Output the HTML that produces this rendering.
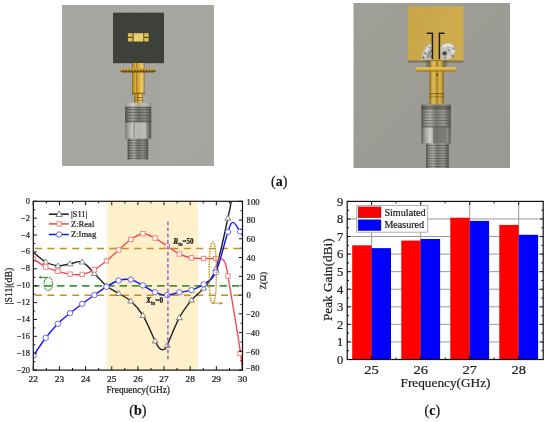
<!DOCTYPE html>
<html><head><meta charset="utf-8"><title>Antenna figure</title>
<style>html,body{margin:0;padding:0;background:#fff;} body{width:550px;height:422px;overflow:hidden;} svg{display:block;} text{stroke:#222;stroke-width:0.22px;}</style>
</head><body>
<svg width="550" height="422" viewBox="0 0 550 422">
<defs>
<linearGradient id="bg1" x1="0" y1="0" x2="1" y2="1"><stop offset="0" stop-color="#a8a8a2"/><stop offset="1" stop-color="#a5a49f"/></linearGradient>
<linearGradient id="bg2" x1="0" y1="0" x2="1" y2="1"><stop offset="0" stop-color="#9f9e97"/><stop offset="1" stop-color="#9a9993"/></linearGradient>
<linearGradient id="board" x1="0" y1="0" x2="1" y2="0.3"><stop offset="0" stop-color="#c8a64a"/><stop offset="1" stop-color="#cfac4c"/></linearGradient>
<filter id="soft" x="-5%" y="-5%" width="110%" height="110%"><feGaussianBlur stdDeviation="0.45"/></filter>
<linearGradient id="sqshade" x1="0" y1="0" x2="0" y2="1"><stop offset="0" stop-color="#000" stop-opacity="0"/><stop offset="1" stop-color="#000" stop-opacity="0.08"/></linearGradient>
<linearGradient id="boardshade" x1="0" y1="0" x2="1" y2="1"><stop offset="0" stop-color="#fff" stop-opacity="0.05"/><stop offset="1" stop-color="#000" stop-opacity="0.06"/></linearGradient>
<linearGradient id="goldv" x1="0" y1="0" x2="1" y2="0"><stop offset="0" stop-color="#7a5a14"/><stop offset="0.1" stop-color="#bc9028"/><stop offset="0.3" stop-color="#e0b43a"/><stop offset="0.38" stop-color="#8e6a1c"/><stop offset="0.45" stop-color="#d6a834"/><stop offset="0.65" stop-color="#dcb040"/><stop offset="0.72" stop-color="#f0d070"/><stop offset="0.9" stop-color="#e0bc58"/><stop offset="1" stop-color="#80601a"/></linearGradient>
<linearGradient id="goldv2" x1="0" y1="0" x2="1" y2="0"><stop offset="0" stop-color="#7a5a18"/><stop offset="0.1" stop-color="#c09630"/><stop offset="0.3" stop-color="#e0c060"/><stop offset="0.45" stop-color="#c49a34"/><stop offset="0.55" stop-color="#a88428"/><stop offset="0.7" stop-color="#d6b44e"/><stop offset="0.85" stop-color="#c8a040"/><stop offset="1" stop-color="#80601a"/></linearGradient>
<linearGradient id="goldh" x1="0" y1="0" x2="0" y2="1"><stop offset="0" stop-color="#caa03a"/><stop offset="0.45" stop-color="#9a7222"/><stop offset="1" stop-color="#6a4c14"/></linearGradient>
<linearGradient id="goldh2" x1="0" y1="0" x2="0" y2="1"><stop offset="0" stop-color="#f2d068"/><stop offset="0.5" stop-color="#dcae3a"/><stop offset="1" stop-color="#9a7016"/></linearGradient>
<linearGradient id="steel" x1="0" y1="0" x2="1" y2="0"><stop offset="0" stop-color="#4e4e4a"/><stop offset="0.12" stop-color="#8e8d88"/><stop offset="0.3" stop-color="#cac9c4"/><stop offset="0.5" stop-color="#7e7d79"/><stop offset="0.75" stop-color="#a6a5a0"/><stop offset="1" stop-color="#555450"/></linearGradient>
<linearGradient id="steel2" x1="0" y1="0" x2="1" y2="0"><stop offset="0" stop-color="#5a5955"/><stop offset="0.12" stop-color="#9e9d98"/><stop offset="0.3" stop-color="#d0cfca"/><stop offset="0.5" stop-color="#8a8984"/><stop offset="0.75" stop-color="#b4b3ae"/><stop offset="1" stop-color="#5e5d59"/></linearGradient>
</defs>
<rect width="550" height="422" fill="#fff"/>
<g id="photo1">
<rect x="62" y="5" width="152" height="161" fill="url(#bg1)"/>
<g filter="url(#soft)">
<rect x="151" y="70" width="10" height="90" fill="#8a8983" opacity="0.10"/>
<rect x="113" y="12.7" width="51" height="50.5" fill="#3d3f3a"/>
<rect x="127.6" y="33" width="21.1" height="8.7" fill="#403b20"/>
<rect x="127.9" y="33.2" width="4.6" height="8.3" fill="#dcc455"/>
<rect x="133.5" y="33.2" width="9.9" height="8.3" fill="#e6d06e"/>
<rect x="144.2" y="33.2" width="4.4" height="8.3" fill="#dcc455"/>
<rect x="127.9" y="36.8" width="4.6" height="1.1" fill="#4a3c18"/>
<rect x="144.2" y="36.8" width="4.4" height="1.1" fill="#4a3c18"/>
<rect x="132.2" y="63" width="12.2" height="31.5" fill="url(#goldv)"/>
<rect x="134.4" y="94" width="8.3" height="9" fill="url(#goldv)"/>
<rect x="132" y="92.6" width="12.6" height="1.6" fill="#6a4808" opacity="0.6"/>
<rect x="134.2" y="97" width="8.7" height="1.1" fill="#6a4808" opacity="0.6"/>
<rect x="134.2" y="100" width="8.7" height="1" fill="#6a4808" opacity="0.5"/>
<rect x="120.2" y="68.4" width="35.4" height="4" rx="1.8" fill="url(#goldh)"/>
<circle cx="121.8" cy="69.6" r="0.9" fill="#e0b848" opacity="0.8"/>
<circle cx="123.2" cy="71.2" r="0.8" fill="#3e2a08" opacity="0.6"/>
<circle cx="124.7" cy="69.6" r="0.9" fill="#e0b848" opacity="0.8"/>
<circle cx="126.1" cy="71.2" r="0.8" fill="#3e2a08" opacity="0.6"/>
<circle cx="127.6" cy="69.6" r="0.9" fill="#e0b848" opacity="0.8"/>
<circle cx="129" cy="71.2" r="0.8" fill="#3e2a08" opacity="0.6"/>
<circle cx="130.5" cy="69.6" r="0.9" fill="#e0b848" opacity="0.8"/>
<circle cx="131.9" cy="71.2" r="0.8" fill="#3e2a08" opacity="0.6"/>
<circle cx="133.4" cy="69.6" r="0.9" fill="#e0b848" opacity="0.8"/>
<circle cx="134.8" cy="71.2" r="0.8" fill="#3e2a08" opacity="0.6"/>
<circle cx="136.3" cy="69.6" r="0.9" fill="#e0b848" opacity="0.8"/>
<circle cx="137.7" cy="71.2" r="0.8" fill="#3e2a08" opacity="0.6"/>
<circle cx="139.2" cy="69.6" r="0.9" fill="#e0b848" opacity="0.8"/>
<circle cx="140.6" cy="71.2" r="0.8" fill="#3e2a08" opacity="0.6"/>
<circle cx="142.1" cy="69.6" r="0.9" fill="#e0b848" opacity="0.8"/>
<circle cx="143.5" cy="71.2" r="0.8" fill="#3e2a08" opacity="0.6"/>
<circle cx="145" cy="69.6" r="0.9" fill="#e0b848" opacity="0.8"/>
<circle cx="146.4" cy="71.2" r="0.8" fill="#3e2a08" opacity="0.6"/>
<circle cx="147.9" cy="69.6" r="0.9" fill="#e0b848" opacity="0.8"/>
<circle cx="149.3" cy="71.2" r="0.8" fill="#3e2a08" opacity="0.6"/>
<circle cx="150.8" cy="69.6" r="0.9" fill="#e0b848" opacity="0.8"/>
<circle cx="152.2" cy="71.2" r="0.8" fill="#3e2a08" opacity="0.6"/>
<circle cx="153.7" cy="69.6" r="0.9" fill="#e0b848" opacity="0.8"/>
<circle cx="155.1" cy="71.2" r="0.8" fill="#3e2a08" opacity="0.6"/>
<rect x="125.2" y="102.8" width="26" height="35.9" fill="url(#steel)"/>
<rect x="125.2" y="109.1" width="26" height="1" fill="#4f4f4a" opacity="0.55"/>
<rect x="125.2" y="112" width="26" height="1" fill="#4f4f4a" opacity="0.55"/>
<rect x="125.2" y="114.9" width="26" height="1" fill="#4f4f4a" opacity="0.55"/>
<rect x="125.2" y="117.8" width="26" height="1" fill="#4f4f4a" opacity="0.55"/>
<rect x="125.2" y="120.7" width="26" height="1" fill="#4f4f4a" opacity="0.55"/>
<rect x="125.2" y="102.8" width="26" height="4.2" fill="#d2d1cc" opacity="0.55"/>
<rect x="125.2" y="106.6" width="26" height="1.2" fill="#3f3f3b" opacity="0.6"/>
<rect x="125.2" y="107.8" width="26" height="13.6" fill="#4f4e4a" opacity="0.3"/>
<rect x="125.2" y="121.4" width="26" height="1" fill="#3f3f3b" opacity="0.6"/>
<rect x="125.2" y="122.4" width="9" height="16.3" fill="#d0cfca" opacity="0.35"/>
<rect x="134.4" y="122.4" width="11.9" height="16.3" fill="#c4c2bd" opacity="0.8"/>
<rect x="133.6" y="122.4" width="0.9" height="16.3" fill="#5a5955" opacity="0.7"/>
<rect x="127.7" y="138.7" width="20.5" height="20.8" fill="url(#steel)"/>
<rect x="127.7" y="139.9" width="20.5" height="1" fill="#4f4f4a" opacity="0.65"/>
<rect x="127.7" y="142.45" width="20.5" height="1" fill="#4f4f4a" opacity="0.65"/>
<rect x="127.7" y="145" width="20.5" height="1" fill="#4f4f4a" opacity="0.65"/>
<rect x="127.7" y="147.55" width="20.5" height="1" fill="#4f4f4a" opacity="0.65"/>
<rect x="127.7" y="150.1" width="20.5" height="1" fill="#4f4f4a" opacity="0.65"/>
<rect x="127.7" y="152.65" width="20.5" height="1" fill="#4f4f4a" opacity="0.65"/>
<rect x="127.7" y="155.2" width="20.5" height="1" fill="#4f4f4a" opacity="0.65"/>
<rect x="127.7" y="157.75" width="20.5" height="1" fill="#4f4f4a" opacity="0.65"/>
<rect x="127.7" y="138.7" width="20.5" height="20.8" fill="#50504b" opacity="0.18"/>
</g>
</g>
<g id="photo2">
<rect x="353.5" y="3" width="156.5" height="165" fill="url(#bg2)"/>
<g filter="url(#soft)">
<rect x="408" y="6.4" width="55.5" height="54.5" fill="url(#board)"/>
<path d="M421.2,59.6 C421.6,55.5 423,51 425.4,47.6 C427.4,44.8 429.8,43.2 432.8,43.4 L433,59.6 Z" fill="#c2c1bc"/>
<path d="M424,57.5 C425,53 427,49 430.5,45.5" stroke="#ecece8" stroke-width="1.6" fill="none" opacity="0.9"/>
<path d="M427.5,58 C428.5,54.5 430,51.5 432,50" stroke="#5d5c56" stroke-width="1.2" fill="none" opacity="0.8"/>
<circle cx="423.5" cy="57.6" r="1.1" fill="#5a5953"/>
<path d="M440.3,59.6 L440.3,48.2 C441,44.8 444.6,42.8 448.6,43 C452.8,43.3 455.8,46.4 455.4,50.9 C455,55.6 451.6,59 446.6,59.6 Z" fill="#c6c5c0"/>
<ellipse cx="444.6" cy="53.4" rx="2.4" ry="2.1" fill="#4e4c46"/>
<path d="M443,46.5 C446,44.5 450,44.5 452.5,46.5" stroke="#efefec" stroke-width="1.6" fill="none"/>
<circle cx="452.6" cy="51.5" r="1.5" fill="#e6e6e2"/>
<circle cx="448.6" cy="56.6" r="1.3" fill="#dcdcd8"/>
<circle cx="452.8" cy="56" r="1.1" fill="#6e6d67"/>
<circle cx="448.5" cy="50.2" r="1" fill="#76756f"/>
<circle cx="425.5" cy="53.5" r="1.3" fill="#7a7973" opacity="0.9"/>
<circle cx="430.5" cy="56.5" r="1.4" fill="#85847e" opacity="0.9"/>
<circle cx="429.8" cy="47.5" r="1.1" fill="#8a8983" opacity="0.9"/>
<circle cx="454" cy="48.5" r="1" fill="#85847e" opacity="0.9"/>
<circle cx="445" cy="57.8" r="1.2" fill="#8a8983" opacity="0.9"/>
<rect x="426" y="60.4" width="21" height="7" fill="#5a5040" opacity="0.45"/>
<path d="M426.9,33.2 H432.4 V59.2 M444.6,33.2 H439.4 V59.2" fill="none" stroke="#241f14" stroke-width="1.5"/>
<rect x="408" y="60.4" width="55.5" height="2.2" fill="#5b5040" opacity="0.55"/>
<rect x="429.6" y="61" width="14" height="43.6" fill="url(#goldv2)"/>
<rect x="429.3" y="92.6" width="14.6" height="12.2" fill="#9a9994" opacity="0.0"/>
<rect x="429.3" y="93" width="14.6" height="1.3" fill="#6a4808" opacity="0.6"/>
<rect x="429.3" y="96.3" width="14.6" height="1.1" fill="#6a4808" opacity="0.5"/>
<rect x="415.9" y="67.3" width="40.4" height="4.2" fill="url(#goldh2)"/>
<circle cx="437.1" cy="74.8" r="1.1" fill="#6b4a10"/>
<rect x="421.4" y="104.6" width="29.4" height="38.9" fill="url(#steel2)"/>
<rect x="421.4" y="111.6" width="29.4" height="1" fill="#4f4f4a" opacity="0.5"/>
<rect x="421.4" y="114.4" width="29.4" height="1" fill="#4f4f4a" opacity="0.5"/>
<rect x="421.4" y="117.2" width="29.4" height="1" fill="#4f4f4a" opacity="0.5"/>
<rect x="421.4" y="120" width="29.4" height="1" fill="#4f4f4a" opacity="0.5"/>
<rect x="421.4" y="122.8" width="29.4" height="1" fill="#4f4f4a" opacity="0.5"/>
<rect x="421.4" y="125.6" width="29.4" height="1" fill="#4f4f4a" opacity="0.5"/>
<rect x="421.4" y="104.6" width="29.4" height="5.2" fill="#3e3e3a" opacity="0.6"/>
<rect x="421.4" y="104.6" width="29.4" height="1" fill="#b0afa9" opacity="0.6"/>
<rect x="421.4" y="110" width="29.4" height="17" fill="#4a4a45" opacity="0.22"/>
<rect x="433" y="127" width="13" height="16.5" fill="#6a6762" opacity="0.7"/>
<rect x="421.4" y="126.6" width="29.4" height="0.9" fill="#45443f" opacity="0.6"/>
<rect x="426.1" y="143.5" width="22.6" height="24.5" fill="url(#steel2)"/>
<rect x="426.1" y="145" width="22.6" height="1" fill="#4f4f4a" opacity="0.6"/>
<rect x="426.1" y="147.6" width="22.6" height="1" fill="#4f4f4a" opacity="0.6"/>
<rect x="426.1" y="150.2" width="22.6" height="1" fill="#4f4f4a" opacity="0.6"/>
<rect x="426.1" y="152.8" width="22.6" height="1" fill="#4f4f4a" opacity="0.6"/>
<rect x="426.1" y="155.4" width="22.6" height="1" fill="#4f4f4a" opacity="0.6"/>
<rect x="426.1" y="158" width="22.6" height="1" fill="#4f4f4a" opacity="0.6"/>
<rect x="426.1" y="160.6" width="22.6" height="1" fill="#4f4f4a" opacity="0.6"/>
<rect x="426.1" y="163.2" width="22.6" height="1" fill="#4f4f4a" opacity="0.6"/>
<rect x="426.1" y="165.8" width="22.6" height="1" fill="#4f4f4a" opacity="0.6"/>
<rect x="426.1" y="143.5" width="22.6" height="24.5" fill="#45443f" opacity="0.2"/>
</g>
</g>
<text x="279.2" y="186" font-family="'Liberation Serif','Times New Roman',serif" font-size="14" fill="#111" text-anchor="middle">(<tspan font-weight="bold">a</tspan>)</text>
<g id="chartb">
<defs><clipPath id="cpb"><rect x="33.3" y="201.3" width="209.2" height="168.8"/></clipPath></defs>
<rect x="106.7" y="201.3" width="91.3" height="168.8" fill="#fef0ca"/>
<line x1="33.3" y1="248.5" x2="242.5" y2="248.5" stroke="#c4901c" stroke-width="1.4" stroke-dasharray="7,5.4" stroke-dashoffset="10.7"/>
<line x1="33.3" y1="295.2" x2="242.5" y2="295.2" stroke="#c4901c" stroke-width="1.4" stroke-dasharray="7,5.4" stroke-dashoffset="10.7"/>
<line x1="33.3" y1="285.8" x2="242.5" y2="285.8" stroke="#3f943a" stroke-width="1.8" stroke-dasharray="7.5,5" stroke-dashoffset="1.3"/>
<g clip-path="url(#cpb)" fill="none" stroke-width="1.4">
<path d="M33.6,252.5 C35.62,254.08 41.7,259.77 45.75,262 C49.79,264.23 53.84,265.58 57.89,265.9 C61.94,266.22 65.99,264.55 70.03,263.9 C74.08,263.25 78.13,260.42 82.18,262 C86.23,263.58 90.28,269.4 94.32,273.4 C98.37,277.4 102.42,282.65 106.47,286 C110.52,289.35 114.57,291 118.62,293.5 C122.66,296 126.71,297.35 130.76,301 C134.81,304.65 138.86,308.75 142.91,315.4 C146.95,322.05 152.43,335.6 155.05,340.9 C157.67,346.2 157.44,345.75 158.6,347.2 C159.76,348.65 160.9,349.33 162,349.6 C163.1,349.87 164.33,349.5 165.2,348.8 C166.07,348.1 164.84,350.58 167.19,345.4 C169.55,340.22 175.29,325.25 179.34,317.7 C183.39,310.15 187.44,305.03 191.48,300.1 C195.53,295.17 199.58,293.3 203.63,288.1 C207.68,282.9 211.73,280.55 215.77,268.9 C219.82,257.25 225.3,229.68 227.92,218.2 C230.54,206.72 230.9,203.03 231.5,200" stroke="#222"/>
<path d="M42.75,264 L45.75,259 L48.75,264 Z" fill="#fff" stroke="#777" stroke-width="0.9"/>
<path d="M54.89,267.9 L57.89,262.9 L60.89,267.9 Z" fill="#fff" stroke="#777" stroke-width="0.9"/>
<path d="M67.03,265.9 L70.03,260.9 L73.03,265.9 Z" fill="#fff" stroke="#777" stroke-width="0.9"/>
<path d="M79.18,264 L82.18,259 L85.18,264 Z" fill="#fff" stroke="#777" stroke-width="0.9"/>
<path d="M91.32,275.4 L94.32,270.4 L97.32,275.4 Z" fill="#fff" stroke="#777" stroke-width="0.9"/>
<path d="M103.47,288 L106.47,283 L109.47,288 Z" fill="#fff" stroke="#777" stroke-width="0.9"/>
<path d="M115.62,295.5 L118.62,290.5 L121.62,295.5 Z" fill="#fff" stroke="#777" stroke-width="0.9"/>
<path d="M127.76,303 L130.76,298 L133.76,303 Z" fill="#fff" stroke="#777" stroke-width="0.9"/>
<path d="M139.91,317.4 L142.91,312.4 L145.91,317.4 Z" fill="#fff" stroke="#777" stroke-width="0.9"/>
<path d="M152.05,342.9 L155.05,337.9 L158.05,342.9 Z" fill="#fff" stroke="#777" stroke-width="0.9"/>
<path d="M164.19,347.4 L167.19,342.4 L170.19,347.4 Z" fill="#fff" stroke="#777" stroke-width="0.9"/>
<path d="M176.34,319.7 L179.34,314.7 L182.34,319.7 Z" fill="#fff" stroke="#777" stroke-width="0.9"/>
<path d="M188.48,302.1 L191.48,297.1 L194.48,302.1 Z" fill="#fff" stroke="#777" stroke-width="0.9"/>
<path d="M200.63,290.1 L203.63,285.1 L206.63,290.1 Z" fill="#fff" stroke="#777" stroke-width="0.9"/>
<path d="M212.77,270.9 L215.77,265.9 L218.77,270.9 Z" fill="#fff" stroke="#777" stroke-width="0.9"/>
<path d="M224.92,220.2 L227.92,215.2 L230.92,220.2 Z" fill="#fff" stroke="#777" stroke-width="0.9"/>
<path d="M33.6,259 C35.62,260.33 41.7,264.95 45.75,267 C49.79,269.05 53.84,270.12 57.89,271.3 C61.94,272.48 65.99,273.58 70.03,274.1 C74.08,274.62 78.13,275.12 82.18,274.4 C86.23,273.68 90.28,272.05 94.32,269.8 C98.37,267.55 102.42,264.2 106.47,260.9 C110.52,257.6 114.57,253.57 118.62,250 C122.66,246.43 126.71,242.22 130.76,239.5 C134.81,236.78 138.86,233.93 142.91,233.7 C146.95,233.47 151,236.02 155.05,238.1 C159.1,240.18 163.15,243.55 167.19,246.2 C171.24,248.85 175.29,252.07 179.34,254 C183.39,255.93 187.44,257.05 191.48,257.8 C195.53,258.55 199.58,258.38 203.63,258.5 C207.68,258.62 212.78,258.47 215.77,258.5 C218.77,258.53 220.06,258.03 221.6,258.7 C223.14,259.37 223.95,259.62 225,262.5 C226.05,265.38 225.32,260.87 227.92,276 C230.52,291.13 238.25,337.3 240.6,353.3 C242.95,369.3 241.77,368.88 242,372" stroke="#f24650"/>
<rect x="31.4" y="256.8" width="4.4" height="4.4" fill="#fff" stroke="#f47c74" stroke-width="0.9"/>
<rect x="43.55" y="264.8" width="4.4" height="4.4" fill="#fff" stroke="#f47c74" stroke-width="0.9"/>
<rect x="55.69" y="269.1" width="4.4" height="4.4" fill="#fff" stroke="#f47c74" stroke-width="0.9"/>
<rect x="67.83" y="271.9" width="4.4" height="4.4" fill="#fff" stroke="#f47c74" stroke-width="0.9"/>
<rect x="79.98" y="272.2" width="4.4" height="4.4" fill="#fff" stroke="#f47c74" stroke-width="0.9"/>
<rect x="92.12" y="267.6" width="4.4" height="4.4" fill="#fff" stroke="#f47c74" stroke-width="0.9"/>
<rect x="104.27" y="258.7" width="4.4" height="4.4" fill="#fff" stroke="#f47c74" stroke-width="0.9"/>
<rect x="116.42" y="247.8" width="4.4" height="4.4" fill="#fff" stroke="#f47c74" stroke-width="0.9"/>
<rect x="128.56" y="237.3" width="4.4" height="4.4" fill="#fff" stroke="#f47c74" stroke-width="0.9"/>
<rect x="140.71" y="231.5" width="4.4" height="4.4" fill="#fff" stroke="#f47c74" stroke-width="0.9"/>
<rect x="152.85" y="235.9" width="4.4" height="4.4" fill="#fff" stroke="#f47c74" stroke-width="0.9"/>
<rect x="165" y="244" width="4.4" height="4.4" fill="#fff" stroke="#f47c74" stroke-width="0.9"/>
<rect x="177.14" y="251.8" width="4.4" height="4.4" fill="#fff" stroke="#f47c74" stroke-width="0.9"/>
<rect x="189.28" y="255.6" width="4.4" height="4.4" fill="#fff" stroke="#f47c74" stroke-width="0.9"/>
<rect x="201.43" y="256.3" width="4.4" height="4.4" fill="#fff" stroke="#f47c74" stroke-width="0.9"/>
<rect x="213.57" y="256.3" width="4.4" height="4.4" fill="#fff" stroke="#f47c74" stroke-width="0.9"/>
<rect x="225.72" y="273.8" width="4.4" height="4.4" fill="#fff" stroke="#f47c74" stroke-width="0.9"/>
<rect x="237.87" y="351.2" width="4.4" height="4.4" fill="#fff" stroke="#f47c74" stroke-width="0.9"/>
<path d="M33.6,355.5 C35.62,352.55 41.7,343.08 45.75,337.8 C49.79,332.52 53.84,327.92 57.89,323.8 C61.94,319.68 65.99,316.42 70.03,313.1 C74.08,309.78 78.13,306.92 82.18,303.9 C86.23,300.88 90.28,297.85 94.32,295 C98.37,292.15 102.42,289.22 106.47,286.8 C110.52,284.38 114.57,281.7 118.62,280.5 C122.66,279.3 126.71,278.78 130.76,279.6 C134.81,280.42 138.86,283.28 142.91,285.4 C146.95,287.52 151,290.68 155.05,292.3 C159.1,293.92 163.15,295.1 167.19,295.1 C171.24,295.1 175.29,293.13 179.34,292.3 C183.39,291.47 187.44,291.43 191.48,290.1 C195.53,288.77 199.58,287.25 203.63,284.3 C207.68,281.35 211.73,281.12 215.77,272.4 C219.82,263.68 225.05,240.33 227.92,232 C230.79,223.67 230.98,222.48 233,222.4 C235.02,222.32 238.4,229.23 240.06,231.5 C241.73,233.77 242.51,235.25 243,236" stroke="#1414fa"/>
<circle cx="33.6" cy="355.5" r="2.7" fill="#fff" stroke="#5a5af0" stroke-width="0.9"/>
<circle cx="45.75" cy="337.8" r="2.7" fill="#fff" stroke="#5a5af0" stroke-width="0.9"/>
<circle cx="57.89" cy="323.8" r="2.7" fill="#fff" stroke="#5a5af0" stroke-width="0.9"/>
<circle cx="70.03" cy="313.1" r="2.7" fill="#fff" stroke="#5a5af0" stroke-width="0.9"/>
<circle cx="82.18" cy="303.9" r="2.7" fill="#fff" stroke="#5a5af0" stroke-width="0.9"/>
<circle cx="94.32" cy="295" r="2.7" fill="#fff" stroke="#5a5af0" stroke-width="0.9"/>
<circle cx="106.47" cy="286.8" r="2.7" fill="#fff" stroke="#5a5af0" stroke-width="0.9"/>
<circle cx="118.62" cy="280.5" r="2.7" fill="#fff" stroke="#5a5af0" stroke-width="0.9"/>
<circle cx="130.76" cy="279.6" r="2.7" fill="#fff" stroke="#5a5af0" stroke-width="0.9"/>
<circle cx="142.91" cy="285.4" r="2.7" fill="#fff" stroke="#5a5af0" stroke-width="0.9"/>
<circle cx="155.05" cy="292.3" r="2.7" fill="#fff" stroke="#5a5af0" stroke-width="0.9"/>
<circle cx="167.19" cy="295.1" r="2.7" fill="#fff" stroke="#5a5af0" stroke-width="0.9"/>
<circle cx="179.34" cy="292.3" r="2.7" fill="#fff" stroke="#5a5af0" stroke-width="0.9"/>
<circle cx="191.48" cy="290.1" r="2.7" fill="#fff" stroke="#5a5af0" stroke-width="0.9"/>
<circle cx="203.63" cy="284.3" r="2.7" fill="#fff" stroke="#5a5af0" stroke-width="0.9"/>
<circle cx="215.77" cy="272.4" r="2.7" fill="#fff" stroke="#5a5af0" stroke-width="0.9"/>
<circle cx="227.92" cy="232" r="2.7" fill="#fff" stroke="#5a5af0" stroke-width="0.9"/>
<circle cx="240.06" cy="231.5" r="2.7" fill="#fff" stroke="#5a5af0" stroke-width="0.9"/>
</g>
<line x1="167.9" y1="221.4" x2="167.9" y2="360" stroke="#8c64d2" stroke-width="1.5" stroke-dasharray="3.6,2.5"/>
<ellipse cx="48.35" cy="283.9" rx="4.3" ry="6.6" fill="none" stroke="#2f8a2a" stroke-width="1.2" stroke-dasharray="1.5,0.9"/>
<line x1="48" y1="277.4" x2="40" y2="277.4" stroke="#3f943a" stroke-width="1.1"/>
<path d="M38.3,277.4 L41.3,275.8 L41.3,279 Z" fill="#3f943a"/>
<path d="M212.75,303.3 C209,303.3 209.2,280 209.2,272.5 C209.2,258 210,241.7 212.75,241.7 C215.5,241.7 216.3,258 216.3,272.5 C216.3,285 216,303.3 212.75,303.3 L221,303.3" fill="none" stroke="#c4901c" stroke-width="1.4" stroke-dasharray="1.6,1"/>
<path d="M223.3,303.3 L220.3,301.8 L220.3,304.8 Z" fill="#c4901c"/>
<rect x="33.3" y="201.3" width="209.2" height="168.8" fill="none" stroke="#111" stroke-width="1.2"/>
<path d="M33.3,370.1v-3.9M33.3,201.3v3.9M46.38,370.1v-2.1M46.38,201.3v2.1M59.45,370.1v-3.9M59.45,201.3v3.9M72.52,370.1v-2.1M72.52,201.3v2.1M85.6,370.1v-3.9M85.6,201.3v3.9M98.67,370.1v-2.1M98.67,201.3v2.1M111.75,370.1v-3.9M111.75,201.3v3.9M124.82,370.1v-2.1M124.82,201.3v2.1M137.9,370.1v-3.9M137.9,201.3v3.9M150.97,370.1v-2.1M150.97,201.3v2.1M164.05,370.1v-3.9M164.05,201.3v3.9M177.12,370.1v-2.1M177.12,201.3v2.1M190.2,370.1v-3.9M190.2,201.3v3.9M203.27,370.1v-2.1M203.27,201.3v2.1M216.35,370.1v-3.9M216.35,201.3v3.9M229.43,370.1v-2.1M229.43,201.3v2.1M242.5,370.1v-3.9M242.5,201.3v3.9M33.3,201.3h3.6M33.3,209.74h2M33.3,218.18h3.6M33.3,226.62h2M33.3,235.06h3.6M33.3,243.5h2M33.3,251.94h3.6M33.3,260.38h2M33.3,268.82h3.6M33.3,277.26h2M33.3,285.7h3.6M33.3,294.14h2M33.3,302.58h3.6M33.3,311.02h2M33.3,319.46h3.6M33.3,327.9h2M33.3,336.34h3.6M33.3,344.78h2M33.3,353.22h3.6M33.3,361.66h2M33.3,370.1h3.6M242.5,201.3h-3.6M242.5,210.68h-2M242.5,220.06h-3.6M242.5,229.43h-2M242.5,238.81h-3.6M242.5,248.19h-2M242.5,257.57h-3.6M242.5,266.94h-2M242.5,276.32h-3.6M242.5,285.7h-2M242.5,295.08h-3.6M242.5,304.46h-2M242.5,313.83h-3.6M242.5,323.21h-2M242.5,332.59h-3.6M242.5,341.97h-2M242.5,351.34h-3.6M242.5,360.72h-2M242.5,370.1h-3.6" stroke="#111" stroke-width="1" fill="none"/>
<g font-family="'Liberation Serif','Times New Roman',serif" font-size="8.4" fill="#222">
<text x="33.3" y="381.6" text-anchor="middle" transform="translate(33.3,0) scale(1.12,1) translate(-33.3,0)">22</text>
<text x="59.45" y="381.6" text-anchor="middle" transform="translate(59.45,0) scale(1.12,1) translate(-59.45,0)">23</text>
<text x="85.6" y="381.6" text-anchor="middle" transform="translate(85.6,0) scale(1.12,1) translate(-85.6,0)">24</text>
<text x="111.75" y="381.6" text-anchor="middle" transform="translate(111.75,0) scale(1.12,1) translate(-111.75,0)">25</text>
<text x="137.9" y="381.6" text-anchor="middle" transform="translate(137.9,0) scale(1.12,1) translate(-137.9,0)">26</text>
<text x="164.05" y="381.6" text-anchor="middle" transform="translate(164.05,0) scale(1.12,1) translate(-164.05,0)">27</text>
<text x="190.2" y="381.6" text-anchor="middle" transform="translate(190.2,0) scale(1.12,1) translate(-190.2,0)">28</text>
<text x="216.35" y="381.6" text-anchor="middle" transform="translate(216.35,0) scale(1.12,1) translate(-216.35,0)">29</text>
<text x="242.5" y="381.6" text-anchor="middle" transform="translate(242.5,0) scale(1.12,1) translate(-242.5,0)">30</text>
<text x="30" y="203.8" text-anchor="end">0</text>
<text x="30" y="220.68" text-anchor="end">&#8722;2</text>
<text x="30" y="237.56" text-anchor="end">&#8722;4</text>
<text x="30" y="254.44" text-anchor="end">&#8722;6</text>
<text x="30" y="271.32" text-anchor="end">&#8722;8</text>
<text x="30" y="288.2" text-anchor="end">&#8722;10</text>
<text x="30" y="305.08" text-anchor="end">&#8722;12</text>
<text x="30" y="321.96" text-anchor="end">&#8722;14</text>
<text x="30" y="338.84" text-anchor="end">&#8722;16</text>
<text x="30" y="355.72" text-anchor="end">&#8722;18</text>
<text x="30" y="372.6" text-anchor="end">&#8722;20</text>
<text x="246.6" y="204.6" transform="translate(246.6,0) scale(1.03,1) translate(-246.6,0)">100</text>
<text x="246.6" y="223.36" transform="translate(246.6,0) scale(1.03,1) translate(-246.6,0)">80</text>
<text x="246.6" y="242.11" transform="translate(246.6,0) scale(1.03,1) translate(-246.6,0)">60</text>
<text x="246.6" y="260.87" transform="translate(246.6,0) scale(1.03,1) translate(-246.6,0)">40</text>
<text x="246.6" y="279.62" transform="translate(246.6,0) scale(1.03,1) translate(-246.6,0)">20</text>
<text x="246.6" y="298.38" transform="translate(246.6,0) scale(1.03,1) translate(-246.6,0)">0</text>
<text x="246.0" y="317.13" transform="translate(246.0,0) scale(1.03,1) translate(-246.0,0)">&#8722;20</text>
<text x="246.0" y="335.89" transform="translate(246.0,0) scale(1.03,1) translate(-246.0,0)">&#8722;40</text>
<text x="246.0" y="354.64" transform="translate(246.0,0) scale(1.03,1) translate(-246.0,0)">&#8722;60</text>
<text x="246.0" y="371.1" transform="translate(246.0,0) scale(1.03,1) translate(-246.0,0)">&#8722;80</text>
</g>
<text x="138.2" y="392.6" font-family="'Liberation Serif','Times New Roman',serif" font-size="9.4" fill="#222" text-anchor="middle" textLength="63.6" lengthAdjust="spacingAndGlyphs">Frequency(GHz)</text>
<text transform="translate(11.8,286.1) rotate(-90)" font-family="'Liberation Serif','Times New Roman',serif" font-size="9.6" fill="#222" text-anchor="middle" textLength="36.6" lengthAdjust="spacingAndGlyphs">|S11|(dB)</text>
<text transform="translate(265.8,280.7) rotate(-90)" font-family="'Liberation Serif','Times New Roman',serif" font-size="8.7" fill="#222" text-anchor="middle">Z(&#937;)</text>
<line x1="48.8" y1="214.2" x2="68.8" y2="214.2" stroke="#1a1a1a" stroke-width="1.5"/>
<path d="M56,216.4 L59.2,210.9 L62.4,216.4 Z" fill="#fff" stroke="#666" stroke-width="0.9"/>
<line x1="48.8" y1="223.9" x2="68.8" y2="223.9" stroke="#f24650" stroke-width="1.5"/>
<rect x="56.9" y="221.7" width="4.4" height="4.4" fill="#fff" stroke="#f47c74" stroke-width="0.9"/>
<line x1="48.8" y1="234.5" x2="68.8" y2="234.5" stroke="#1414fa" stroke-width="1.5"/>
<circle cx="59.1" cy="234.5" r="2.7" fill="#fff" stroke="#5a5af0" stroke-width="0.9"/>
<g font-family="'Liberation Serif','Times New Roman',serif" font-size="8.6" fill="#222">
<text x="70.9" y="217.2">|S11|</text>
<text x="70.9" y="226.8">Z:Real</text>
<text x="70.9" y="237.4">Z:Imag</text>
</g>
<g font-family="'Liberation Serif','Times New Roman',serif" font-weight="bold" fill="#111">
<text x="173.3" y="243.9" font-size="7.5"><tspan font-style="italic">R</tspan><tspan font-size="5.6" dy="1.7" textLength="4.3" lengthAdjust="spacingAndGlyphs">in</tspan><tspan dy="-1.7" textLength="11" lengthAdjust="spacingAndGlyphs">=50</tspan></text>
<text x="145.9" y="303.3" font-size="7.5"><tspan font-style="italic">X</tspan><tspan font-size="5.6" dy="1.7" textLength="4.3" lengthAdjust="spacingAndGlyphs">in</tspan><tspan dy="-1.7" textLength="8" lengthAdjust="spacingAndGlyphs">=0</tspan></text>
</g>
<text x="137.9" y="415" font-family="'Liberation Serif','Times New Roman',serif" font-size="14" fill="#111" text-anchor="middle">(<tspan font-weight="bold">b</tspan>)</text>
</g>
<g id="chartc">
<path d="M347.2,341.93H543.2M347.2,324.37H543.2M347.2,306.8H543.2M347.2,289.23H543.2M347.2,271.67H543.2M347.2,254.1H543.2M347.2,236.53H543.2M347.2,218.97H543.2M371.6,201.4V359.5M420.7,201.4V359.5M469.7,201.4V359.5M518.7,201.4V359.5" stroke="#999" stroke-width="1" fill="none"/>
<rect x="352.2" y="245.32" width="19.4" height="114.18" fill="#ff0000"/>
<rect x="371.6" y="248.13" width="19.4" height="111.37" fill="#0000ff"/>
<rect x="401.3" y="240.57" width="19.4" height="118.93" fill="#ff0000"/>
<rect x="420.7" y="238.99" width="19.4" height="120.51" fill="#0000ff"/>
<rect x="450.3" y="217.74" width="19.4" height="141.76" fill="#ff0000"/>
<rect x="469.7" y="220.9" width="19.4" height="138.6" fill="#0000ff"/>
<rect x="499.3" y="224.94" width="19.4" height="134.56" fill="#ff0000"/>
<rect x="518.7" y="234.78" width="19.4" height="124.72" fill="#0000ff"/>
<rect x="356.7" y="205.6" width="71" height="26.6" fill="#fff" stroke="#a5a5a5" stroke-width="0.9"/>
<rect x="358.1" y="206.9" width="22.9" height="10.9" fill="#ff0000" stroke="#333" stroke-width="0.4"/>
<rect x="358.1" y="219.8" width="22.9" height="10.9" fill="#0000ff" stroke="#333" stroke-width="0.4"/>
<g font-family="'Liberation Serif','Times New Roman',serif" font-size="10.2" fill="#222">
<text x="384.4" y="215.8" textLength="41.2" lengthAdjust="spacingAndGlyphs">Simulated</text>
<text x="384.4" y="228" textLength="39.7" lengthAdjust="spacingAndGlyphs">Measured</text>
</g>
<rect x="347.2" y="201.4" width="196" height="158.1" fill="none" stroke="#111" stroke-width="1.2"/>
<path d="M347.2,359.5h3.2M543.2,359.5h-3.2M347.2,350.72h1.8M543.2,350.72h-1.8M347.2,341.93h3.2M543.2,341.93h-3.2M347.2,333.15h1.8M543.2,333.15h-1.8M347.2,324.37h3.2M543.2,324.37h-3.2M347.2,315.58h1.8M543.2,315.58h-1.8M347.2,306.8h3.2M543.2,306.8h-3.2M347.2,298.02h1.8M543.2,298.02h-1.8M347.2,289.23h3.2M543.2,289.23h-3.2M347.2,280.45h1.8M543.2,280.45h-1.8M347.2,271.67h3.2M543.2,271.67h-3.2M347.2,262.88h1.8M543.2,262.88h-1.8M347.2,254.1h3.2M543.2,254.1h-3.2M347.2,245.32h1.8M543.2,245.32h-1.8M347.2,236.53h3.2M543.2,236.53h-3.2M347.2,227.75h1.8M543.2,227.75h-1.8M347.2,218.97h3.2M543.2,218.97h-3.2M347.2,210.18h1.8M543.2,210.18h-1.8M347.2,201.4h3.2M543.2,201.4h-3.2M371.6,201.4v3.5M371.6,359.5v-3.5M420.7,201.4v3.5M420.7,359.5v-3.5M469.7,201.4v3.5M469.7,359.5v-3.5M518.7,201.4v3.5M518.7,359.5v-3.5M396.15,201.4v2M396.15,359.5v-2M445.2,201.4v2M445.2,359.5v-2M494.2,201.4v2M494.2,359.5v-2" stroke="#111" stroke-width="1" fill="none"/>
<g font-family="'Liberation Serif','Times New Roman',serif" font-size="12.6" fill="#222">
<text x="343.4" y="363.8" text-anchor="end">0</text>
<text x="343.4" y="346.23" text-anchor="end">1</text>
<text x="343.4" y="328.67" text-anchor="end">2</text>
<text x="343.4" y="311.1" text-anchor="end">3</text>
<text x="343.4" y="293.53" text-anchor="end">4</text>
<text x="343.4" y="275.97" text-anchor="end">5</text>
<text x="343.4" y="258.4" text-anchor="end">6</text>
<text x="343.4" y="240.83" text-anchor="end">7</text>
<text x="343.4" y="223.27" text-anchor="end">8</text>
<text x="343.4" y="205.7" text-anchor="end">9</text>
<text x="371.6" y="374.3" text-anchor="middle" transform="translate(371.6,0) scale(1.15,1) translate(-371.6,0)">25</text>
<text x="420.7" y="374.3" text-anchor="middle" transform="translate(420.7,0) scale(1.15,1) translate(-420.7,0)">26</text>
<text x="469.7" y="374.3" text-anchor="middle" transform="translate(469.7,0) scale(1.15,1) translate(-469.7,0)">27</text>
<text x="518.7" y="374.3" text-anchor="middle" transform="translate(518.7,0) scale(1.15,1) translate(-518.7,0)">28</text>
</g>
<text x="445.5" y="386.9" font-family="'Liberation Serif','Times New Roman',serif" font-size="13.2" fill="#222" text-anchor="middle" textLength="90" lengthAdjust="spacingAndGlyphs">Frequency(GHz)</text>
<text transform="translate(331.6,279.7) rotate(-90)" font-family="'Liberation Serif','Times New Roman',serif" font-size="13.2" fill="#222" text-anchor="middle" textLength="82.7" lengthAdjust="spacingAndGlyphs">Peak Gain(dBi)</text>
<text x="432.4" y="415.2" font-family="'Liberation Serif','Times New Roman',serif" font-size="14" fill="#111" text-anchor="middle">(<tspan font-weight="bold">c</tspan>)</text>
</g>
</svg>
</body></html>
